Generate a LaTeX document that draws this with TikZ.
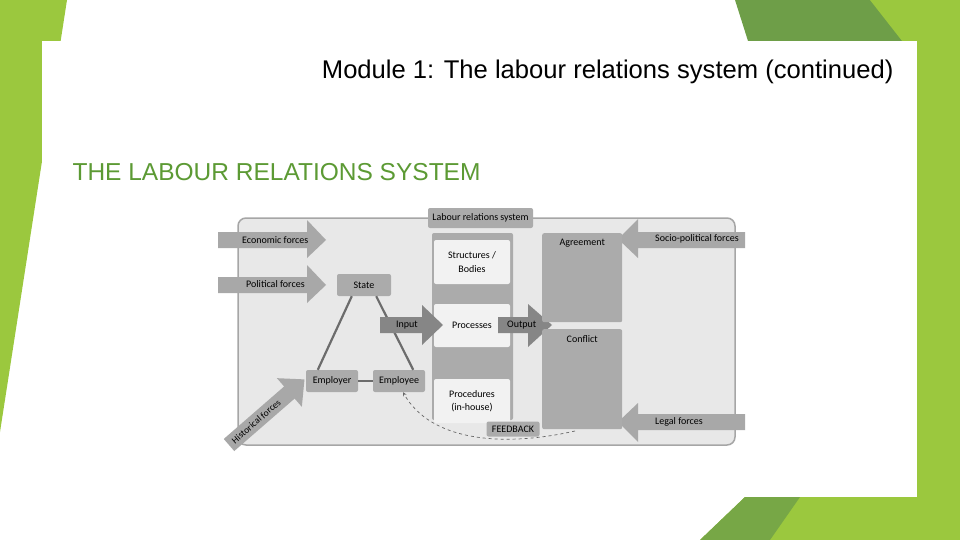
\documentclass[tikz,border=0pt]{standalone}
\usepackage{fontspec}
\setmainfont{Liberation Sans}
\newfontfamily\diagfont{Carlito}
\usetikzlibrary{positioning}
\definecolor{lgreen}{HTML}{9BC83E}
\definecolor{dgreen}{HTML}{6E9E48}
\definecolor{hgreen}{HTML}{5C9A34}
\definecolor{panelgray}{HTML}{E8E8E8}
\definecolor{boxgray}{HTML}{ABABAB}
\definecolor{cellgray}{HTML}{F2F2F2}
\definecolor{arrgray}{HTML}{A8A8A8}
\tikzset{
  gbox/.style={fill=boxgray, rounded corners=2pt, font=\diagfont\fontsize{10}{11}\selectfont, inner sep=0pt},
  wbox/.style={fill=cellgray, rounded corners=2pt, font=\diagfont\fontsize{10}{13.5}\selectfont, align=center, inner sep=0pt},
  lbl/.style={font=\diagfont\fontsize{10}{11}\selectfont, inner sep=0pt},
  tie/.style={draw=gray!85!black, line width=2.2pt}
}
\begin{document}
\begin{tikzpicture}[x=1pt, y=-1pt, line join=round]
	\useasboundingbox (0,0) rectangle (960,540);
	% slide background
	\fill[lgreen] (0,0)--(67,0)--(0,432)--cycle;
	\fill[dgreen] (735,0)--(880,0)--(917,60)--(917,41)--(748,41)--cycle;
	\fill[lgreen] (870,0)--(960,0)--(960,540)--(700,540)--(745,497)--(917,497)--(917,60)--cycle;
	\fill[dgreen!80!lgreen] (700,540)--(745,497)--(800,497)--(770,540)--cycle;
	\fill[white] (42,41) rectangle (917,497);
	\node[anchor=east, font=\fontsize{25.6}{27}\selectfont] (title) at (897,72) {Module 1: The labour relations system (continued)};
	\node[anchor=west, text=hgreen, font=\fontsize{24.5}{26}\selectfont] (head) at (69,172) {THE LABOUR RELATIONS SYSTEM};
	% panel
	\draw[draw=gray!70, fill=panelgray, line width=1.5pt, rounded corners=8pt] (238,218) rectangle (735,445);
	\node[gbox, minimum width=105pt, minimum height=20pt] (lrs) at (480.5,218) {Labour relations system};
	% force arrows
	\fill[arrgray] (218,232)--(307,232)--(307,220)--(326,240)--(307,258)--(307,248)--(218,248)--cycle;
	\node[lbl, anchor=west] (econ) at (242,240) {Economic forces};
	\fill[arrgray] (218,277)--(307,277)--(307,265)--(326,285)--(307,303)--(307,293)--(218,293)--cycle;
	\node[lbl, anchor=west] (pol) at (246,284) {Political forces};
	\fill[arrgray] (745,232)--(638,232)--(638,219)--(618,239)--(638,258)--(638,248)--(745,248)--cycle;
	\node[lbl, anchor=west] (socio) at (655,239) {Socio-political forces};
	\fill[arrgray] (745,414)--(638,414)--(638,403)--(618,422)--(638,442)--(638,430)--(745,430)--cycle;
	\node[lbl, anchor=west] (legal) at (655,422) {Legal forces};
	\begin{scope}[shift={(229,445)}, rotate=41]
		\fill[arrgray] (0,-8)--(80,-8)--(80,-19)--(100,0)--(80,19)--(80,8)--(0,8)--cycle;
		\coordinate (histc) at (36,0);
	\end{scope}
	\node[lbl, rotate=41, font=\diagfont\fontsize{9.5}{10}\selectfont] (hist) at (histc) {Historical forces};
	% triangle of parties
	\node[gbox, minimum width=54pt, minimum height=22pt] (state) at (364,285) {State};
	\node[gbox, minimum width=52pt, minimum height=22pt] (employer) at (332,381) {Employer};
	\node[gbox, minimum width=52pt, minimum height=22pt] (employee) at (399,381) {Employee};
	\draw[tie] (state.south west)++(15,0) -- ([xshift=12pt]employer.north west);
	\draw[tie] (state.south east)++(-15,0) -- ([xshift=-12pt]employee.north east);
	\draw[tie] (employer) -- (employee);
	% system column
	\node[fill=boxgray, rounded corners=2pt, minimum width=81pt, minimum height=187pt, inner sep=0pt] (column) at (472.5,326.5) {};
	\node[wbox, minimum width=76pt, minimum height=44pt] (struct) at (472,262) {Structures /\\Bodies};
	\node[wbox, minimum width=76pt, minimum height=43pt] (proc) at (472,325.5) {Processes};
	\node[wbox, minimum width=76pt, minimum height=44pt] (procd) at (472,401) {Procedures\\(in-house)};
	% input / output
	\fill[arrgray!80!black] (380,317)--(422,317)--(422,305)--(443,325)--(422,345)--(422,333)--(380,333)--cycle;
	\node[lbl, anchor=west] (input) at (396,325) {Input};
	\fill[arrgray!80!black] (498,317)--(528,317)--(528,304)--(552,325)--(528,347)--(528,333)--(498,333)--cycle;
	\node[lbl, anchor=west] (output) at (507,325) {Output};
	% outcomes
	\node[gbox, minimum width=80pt, minimum height=89pt, anchor=north west] (agree) at (542,233) {};
	\node[lbl, below=6pt of agree.north] (agreet) {Agreement};
	\node[gbox, minimum width=80pt, minimum height=100pt, anchor=north west] (conflict) at (542,329) {};
	\node[lbl, below=6pt of conflict.north] (conflictt) {Conflict};
	% feedback
	\node[gbox, minimum width=53pt, minimum height=15pt] (feedback) at (513,429) {FEEDBACK};
	\coordinate (fbstart) at (575,431);
	\draw[dashed, gray!80!black, line width=0.7pt, ->, >=stealth] (fbstart) .. controls (500,448) and (430,440) .. ([xshift=4pt]employee.south);
\end{tikzpicture}
\end{document}
